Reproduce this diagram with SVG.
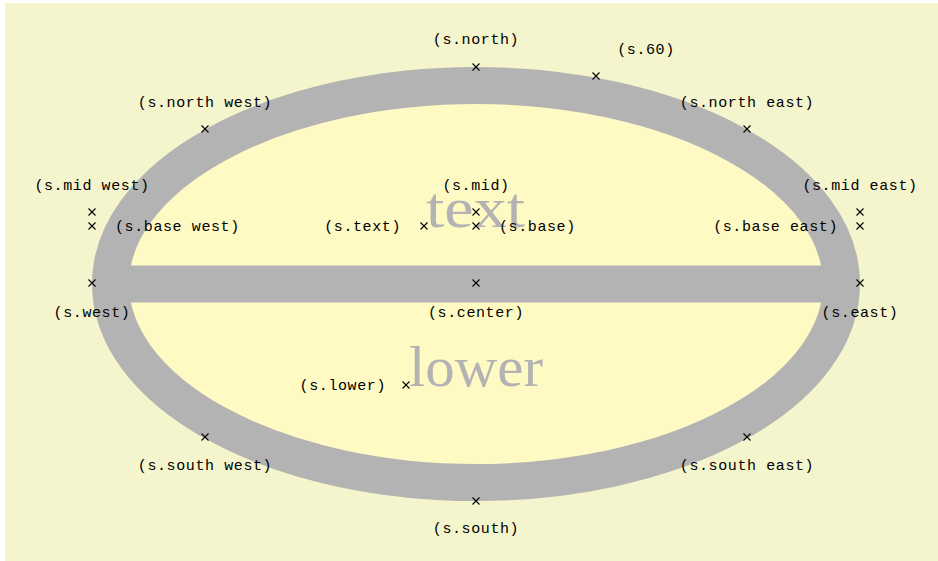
<svg xmlns="http://www.w3.org/2000/svg" xmlns:xlink="http://www.w3.org/1999/xlink" width="938" height="561" viewBox="0 0 938 561">
<style>
.lbl{font-family:"Liberation Mono","DejaVu Sans Mono",monospace;font-size:15px;letter-spacing:0.6px;fill:#000}
.big{font-family:"Liberation Serif","Times New Roman",serif;font-size:58px;fill:#b3b3b3}
.mk{stroke:#000;stroke-width:1.1;fill:none}
.m{text-anchor:middle}
.e{text-anchor:end}
</style>
<defs>
<path id="x" class="mk" d="M-3.5,-3.5L3.5,3.5M3.5,-3.5L-3.5,3.5"/>
</defs>
<rect x="5" y="3" width="933" height="558" fill="#f4f5cd"/>
<g id="s">
<ellipse cx="476" cy="284" rx="365.5" ry="198.5" fill="#fffac4" stroke="#b3b3b3" stroke-width="37"/>
<line x1="115" y1="284" x2="837" y2="284" stroke="#b3b3b3" stroke-width="37"/>
<text class="big" x="426" y="227" textLength="99" lengthAdjust="spacingAndGlyphs">text</text>
<text class="big" x="409" y="386" textLength="134" lengthAdjust="spacingAndGlyphs">lower</text>
</g>
<g id="connectors"/>
<g id="a-north"><use xlink:href="#x" x="476" y="67"/><text class="lbl m" x="476" y="44">(s.north)</text></g>
<g id="a-60"><use xlink:href="#x" x="596" y="76"/><text class="lbl m" x="646" y="54">(s.60)</text></g>
<g id="a-north-west"><use xlink:href="#x" x="205" y="129"/><text class="lbl m" x="205" y="107">(s.north west)</text></g>
<g id="a-north-east"><use xlink:href="#x" x="747" y="129"/><text class="lbl m" x="747" y="107">(s.north east)</text></g>
<g id="a-mid-west"><use xlink:href="#x" x="92" y="212"/><text class="lbl m" x="92" y="190">(s.mid west)</text></g>
<g id="a-base-west"><use xlink:href="#x" x="92" y="226"/><text class="lbl" x="115" y="231">(s.base west)</text></g>
<g id="a-mid"><use xlink:href="#x" x="476" y="212"/><text class="lbl m" x="476" y="190">(s.mid)</text></g>
<g id="a-base"><use xlink:href="#x" x="476" y="226"/><text class="lbl" x="499" y="231">(s.base)</text></g>
<g id="a-text"><use xlink:href="#x" x="424" y="226"/><text class="lbl e" x="401" y="231">(s.text)</text></g>
<g id="a-mid-east"><use xlink:href="#x" x="860" y="212"/><text class="lbl m" x="860" y="190">(s.mid east)</text></g>
<g id="a-base-east"><use xlink:href="#x" x="860" y="226"/><text class="lbl e" x="838" y="231">(s.base east)</text></g>
<g id="a-west"><use xlink:href="#x" x="92" y="283"/><text class="lbl m" x="92" y="317">(s.west)</text></g>
<g id="a-center"><use xlink:href="#x" x="476" y="283"/><text class="lbl m" x="476" y="317">(s.center)</text></g>
<g id="a-east"><use xlink:href="#x" x="860" y="283"/><text class="lbl m" x="860" y="317">(s.east)</text></g>
<g id="a-lower"><use xlink:href="#x" x="406" y="385"/><text class="lbl e" x="386" y="390">(s.lower)</text></g>
<g id="a-south-west"><use xlink:href="#x" x="205" y="437"/><text class="lbl m" x="205" y="470">(s.south west)</text></g>
<g id="a-south-east"><use xlink:href="#x" x="747" y="437"/><text class="lbl m" x="747" y="470">(s.south east)</text></g>
<g id="a-south"><use xlink:href="#x" x="476" y="501"/><text class="lbl m" x="476" y="533">(s.south)</text></g>
</svg>
